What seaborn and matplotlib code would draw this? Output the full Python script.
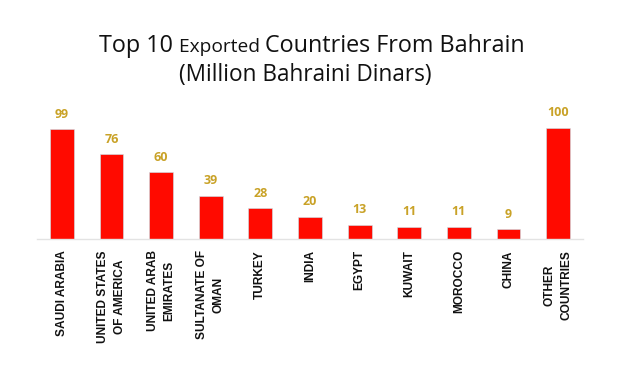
import matplotlib
matplotlib.use("Agg")
import matplotlib.pyplot as plt
import seaborn as sns
import pandas as pd

# data
countries = ["SAUDI ARABIA", "UNITED STATES\nOF AMERICA", "UNITED ARAB\nEMIRATES",
             "SULTANATE OF\nOMAN", "TURKEY", "INDIA", "EGYPT", "KUWAIT",
             "MOROCCO", "CHINA", "OTHER\nCOUNTRIES"]
exports = [99, 76, 60, 39, 28, 20, 13, 11, 11, 9, 100]

df = pd.DataFrame({"country": countries, "value": exports})

sns.set_theme(style="white")
plt.rcParams['font.family'] = ['Open Sans', 'DejaVu Sans']

fig = plt.figure(figsize=(6.19, 3.74), dpi=100)
ax = fig.add_axes([37 / 619, (374 - 239) / 374, 546 / 619, 139 / 374])

sns.barplot(data=df, x="country", y="value", color="#ff0a00", saturation=1,
            width=0.48, edgecolor="#c8e8f0", linewidth=0.4, ax=ax)

ax.set_ylim(0, 125)
ax.set_xlim(-0.5, len(countries) - 0.5)
ax.set_xlabel("")
ax.set_ylabel("")
ax.set_yticks([])
for s in ["left", "right", "top"]:
    ax.spines[s].set_visible(False)
ax.spines["bottom"].set_color("#e3e3e3")
ax.spines["bottom"].set_linewidth(1.0)
ax.tick_params(axis="x", length=0, pad=8)

for lab in ax.get_xticklabels():
    lab.set_rotation(90)
    lab.set_fontsize(8.6)
    lab.set_fontweight("bold")
    lab.set_family(["Liberation Sans Narrow", "Liberation Sans", "DejaVu Sans"])
    lab.set_multialignment("center")
    lab.set_linespacing(1.5)
    lab.set_color("#111111")

for c in ax.containers:
    ax.bar_label(c, labels=[str(v) for v in exports], padding=6,
                 fontsize=9, fontweight="bold", color="#c9a227")

# title with a smaller middle word, pieces placed side by side
fig.canvas.draw()
r = fig.canvas.get_renderer()
parts = [("Top 10 ", 16.8), ("Exported ", 13.8), ("Countries From Bahrain", 16.8)]
texts = []
for s, fs in parts:
    t = fig.text(0, 1 - 52 / 374, s, fontsize=fs, color="#111111", ha="left", va="baseline")
    texts.append(t)
widths = [t.get_window_extent(r).width for t in texts]
x0 = 312 - sum(widths) / 2
for t, w in zip(texts, widths):
    t.set_x(x0 / 619)
    x0 += w
fig.text(305 / 619, 1 - 81 / 374, "(Million Bahraini Dinars)", fontsize=16.3,
         color="#111111", ha="center", va="baseline")

fig.savefig("out.png", dpi=100)
